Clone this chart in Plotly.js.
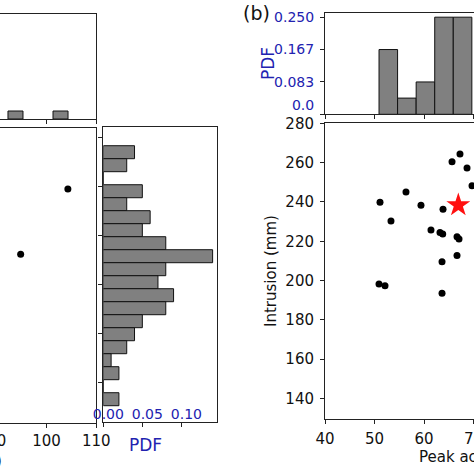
<!DOCTYPE html>
<html>
<head>
<meta charset="utf-8">
<script src="https://cdn.plot.ly/plotly-3.0.1.min.js"></script>
<style>
html,body{margin:0;padding:0;overflow:hidden;background:#fff;width:474px;height:474px;}
#plot{position:absolute;left:-20px;top:0;width:514px;height:474px;}
</style>
</head>
<body>
<div id="plot"></div>
<script>
// ---------- Panel (a) data (visible part) ----------
const aScatterX = [94.8, 104.3];
const aScatterY = [212.2, 238.9];
const aTopBinCenters = [93.76, 102.82];
const aTopPdf = [0.01, 0.01];
const aTopBinWidth = 3.02;
const aRightBinCenters = [253.91, 248.60, 243.29, 237.97, 232.66, 227.35, 222.04, 216.72, 211.41, 206.10,
                          200.78, 195.47, 190.16, 184.85, 179.53, 174.22, 168.91, 163.60, 158.28, 152.97];
const aRightPdf = [0.04, 0.03, 0.00, 0.05, 0.03, 0.06, 0.05, 0.08, 0.14, 0.08,
                   0.07, 0.09, 0.08, 0.05, 0.04, 0.03, 0.01, 0.02, 0.00, 0.02];
const aRightBinWidth = 5.313;
const aPdfTicks = [0, 0.05, 0.10];
const aPdfTickText = ['0.00', '0.05', '0.10'];

// ---------- Panel (b) data ----------
const bPeakAcc  = [67.27, 65.66, 68.69, 69.70, 56.36, 51.11, 59.39, 63.84, 53.33, 61.41,
                   63.23, 63.78, 66.67, 67.07, 66.67, 63.64, 50.91, 52.12, 63.64];
const bIntrusion = [264.4, 260.5, 257.3, 248.3, 245.1, 239.8, 238.3, 236.3, 230.3, 225.7,
                    224.5, 223.7, 222.3, 221.1, 212.8, 209.6, 198.2, 197.4, 193.5];
const bRefX = [66.93];
const bRefY = [238.4];
const bBinCenters = [52.79, 56.54, 60.29, 64.04, 67.79];
const bPdf = [0.1667, 0.0417, 0.0833, 0.25, 0.25];
const bBinWidth = 3.75;
const bPdfTicks = [0, 0.0833, 0.1667, 0.25];
const bPdfTickText = ['0.0<br>\u00a0', '0.083', '0.167', '0.250'];
const bXTicks = [40, 50, 60, 70];
const bYTicks = [140, 160, 180, 200, 220, 240, 260, 280];
const aXTicks = [90, 100, 110];
const aYTicks = [160, 180, 200, 220, 240, 260];

// ---------- geometry helpers ----------
const W = 514, H = 474, OFF = 20;
const fx = sx => (sx + OFF) / W;
const fy = sy => 1 - sy / H;

const FONT = 'DejaVu Sans, sans-serif';
const BLUE = '#2222b0';
const LINE = '#222222';
const BARC = '#808080';

const baseAxis = {
  showline: true, linecolor: LINE, linewidth: 1, mirror: true,
  showgrid: false, zeroline: false, ticks: 'outside', ticklen: 4, tickwidth: 1,
  tickcolor: LINE, automargin: false, fixedrange: true,
  tickfont: {family: FONT, size: 15, color: '#111'}
};
const ax = o => Object.assign({}, baseAxis, o);

const traces = [
  // (a) scatter
  {type: 'scatter', mode: 'markers', x: aScatterX, y: aScatterY, xaxis: 'x', yaxis: 'y',
   marker: {color: '#000', size: 7}, hoverinfo: 'skip'},
  // (a) top histogram
  {type: 'bar', x: aTopBinCenters, y: aTopPdf, width: aTopBinWidth, xaxis: 'x2', yaxis: 'y2',
   marker: {color: BARC, line: {color: '#111', width: 1}}, hoverinfo: 'skip'},
  // (a) right histogram
  {type: 'bar', orientation: 'h', x: aRightPdf, y: aRightBinCenters, width: aRightBinWidth,
   xaxis: 'x3', yaxis: 'y3',
   marker: {color: BARC, line: {color: '#111', width: 1}}, hoverinfo: 'skip'},
  // (b) top histogram
  {type: 'bar', x: bBinCenters, y: bPdf, width: bBinWidth, xaxis: 'x4', yaxis: 'y4',
   marker: {color: BARC, line: {color: '#111', width: 1}}, hoverinfo: 'skip'},
  // (b) scatter
  {type: 'scatter', mode: 'markers', x: bPeakAcc, y: bIntrusion, xaxis: 'x5', yaxis: 'y5',
   marker: {color: '#000', size: 7}, hoverinfo: 'skip'},
  {type: 'scatter', mode: 'markers', x: bRefX, y: bRefY, xaxis: 'x5', yaxis: 'y5',
   marker: {color: '#ff1010', size: 18, symbol: 'star', line: {width: 0}}, hoverinfo: 'skip'}
];

const ann = (text, sx, sy, o) => Object.assign({
  text: text, xref: 'paper', yref: 'paper', x: fx(sx), y: fy(sy),
  xanchor: 'center', yanchor: 'middle', showarrow: false,
  font: {family: FONT, size: 15, color: '#111'}
}, o || {});

const layout = {
  width: W, height: H,
  margin: {l: 0, r: 0, t: 0, b: 0, pad: 0},
  paper_bgcolor: '#fff', plot_bgcolor: '#fff',
  showlegend: false,
  font: {family: FONT, color: '#111'},
  xaxis: ax({domain: [0, fx(96.2)], range: [86.62, 110], anchor: 'y',
             tickvals: aXTicks, ticktext: aXTicks.map(String)}),
  yaxis: ax({domain: [fy(423.3), fy(128.3)], range: [143.12, 263.68], anchor: 'x',
             tickvals: aYTicks, showticklabels: false}),
  xaxis2: ax({domain: [0, fx(96.2)], range: [86.62, 110], anchor: 'y2',
              tickvals: aXTicks, showticklabels: false}),
  yaxis2: ax({domain: [fy(119), fy(14.3)], range: [0, 0.131], anchor: 'x2',
              showticklabels: false, ticks: ''}),
  xaxis3: ax({domain: [fx(103.3), fx(217.3)], range: [0, 0.146], anchor: 'y3',
              tickvals: aPdfTicks, ticktext: aPdfTickText, ticklabelposition: 'inside',
              ticklabeloverflow: 'allow', ticklabelshift: 5,
              tickfont: {family: FONT, size: 14, color: BLUE}}),
  yaxis3: ax({domain: [fy(421.7), fy(127.3)], range: [143.78, 264.09], anchor: 'x3',
              tickvals: aYTicks, showticklabels: false}),
  xaxis4: ax({domain: [fx(325), 1], range: [40, 74.14], anchor: 'y4',
              tickvals: bXTicks, showticklabels: false}),
  yaxis4: ax({domain: [fy(114.3), fy(13.3)], range: [0, 0.26], anchor: 'x4',
              tickvals: bPdfTicks, ticktext: bPdfTickText, ticklabelstandoff: 3,
              tickfont: {family: FONT, size: 14, color: BLUE}}),
  xaxis5: ax({domain: [fx(325), 1], range: [40, 74.14], anchor: 'y5',
              tickvals: bXTicks, ticktext: bXTicks.map(String), ticklabelstandoff: 2}),
  yaxis5: ax({domain: [fy(419), fy(123.2)], range: [129.5, 280.1], anchor: 'x5',
              tickvals: bYTicks, ticktext: bYTicks.map(String), ticklabelstandoff: 3}),
  annotations: [
    ann('(b)', 256, 13, {font: {family: FONT, size: 19, color: '#111'}}),
    ann('PDF', 145, 445, {font: {family: FONT, size: 17, color: BLUE}}),
    ann('PDF', 268, 64, {textangle: -90, font: {family: FONT, size: 17, color: BLUE}}),
    ann('Intrusion (mm)', 271, 271, {textangle: -90}),
    ann('Peak acceleration (g)', 417, 457, {xanchor: 'left'}),
    ann('Peak acceleration (g)', 4, 461, {xanchor: 'right'})
  ]
};

Plotly.newPlot('plot', traces, layout, {staticPlot: true, displayModeBar: false});
</script>
</body>
</html>
